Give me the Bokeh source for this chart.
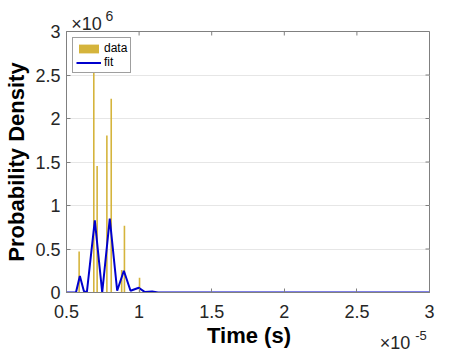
from bokeh.plotting import figure
from bokeh.models import FixedTicker, Legend, LegendItem, LinearAxis
from bokeh.embed import file_html
from bokeh.resources import INLINE

# ---- data (time in units of 1e-5 s, density in units of 1e6) ----
bar_x = [0.587, 0.688, 0.711, 0.778, 0.808, 0.880, 0.899, 1.003]
bar_h = [0.47, 2.60, 1.455, 1.806, 2.226, 0.26, 0.767, 0.17]
bar_w = 0.011

fit_x = [0.500, 0.565, 0.592, 0.620, 0.640, 0.695, 0.746, 0.798, 0.849,
         0.895, 0.941, 0.998, 1.040, 1.090, 1.130, 3.000]
fit_y = [0.0, 0.0, 0.19, 0.015, 0.0, 0.83, 0.0, 0.85, 0.02,
         0.25, 0.02, 0.055, 0.005, 0.012, 0.0, 0.0]

x_ticks = [0.5, 1.0, 1.5, 2.0, 2.5, 3.0]
x_tick_labels = ["0.5", "1", "1.5", "2", "2.5", "3"]
y_ticks = [0.0, 0.5, 1.0, 1.5, 2.0, 2.5, 3.0]
y_tick_labels = ["0", "0.5", "1", "1.5", "2", "2.5", "3"]
x_exponent = "-5"
y_exponent = "6"
x_title = "Time (s)"
y_title = "Probability Density"

FONT = "Liberation Sans"
AX_COL = "#808080"
TXT_COL = "#262626"

W, H = 474, 355
BL, BR, BT, BB = 66, 45, 31, 62
XR = (0.5, 3.0)
YR = (0.0, 3.0)
fw, fh = W - BL - BR, H - BT - BB


def px_to_x(px):
    return XR[0] + (px - BL) * (XR[1] - XR[0]) / fw


p = figure(width=W, height=H, x_range=XR, y_range=YR,
           output_backend="svg", toolbar_location=None,
           min_border_left=BL, min_border_right=BR, min_border_top=BT,
           min_border_bottom=BB)
p.outline_line_color = AX_COL
p.background_fill_color = "white"
p.border_fill_color = "white"

r_bar = p.vbar(x=bar_x, top=bar_h, width=bar_w, bottom=0,
               fill_color="#D5B43C", line_color=None)
r_fit = p.line(fit_x, fit_y, line_color="#0000CD", line_width=2)

p.xgrid.visible = False
p.ygrid.ticker = FixedTicker(ticks=y_ticks)
p.ygrid.grid_line_color = "#e6e6e6"
p.ygrid.grid_line_width = 1

for ax, ticks, labels in ((p.xaxis[0], x_ticks, x_tick_labels),
                          (p.yaxis[0], y_ticks, y_tick_labels)):
    ax.ticker = FixedTicker(ticks=ticks)
    ax.major_label_overrides = dict(zip(ticks, labels))
    ax.axis_line_color = AX_COL
    ax.major_tick_line_color = AX_COL
    ax.major_tick_in = 4
    ax.major_tick_out = 0
    ax.minor_tick_line_color = None
    ax.major_label_text_font = FONT
    ax.major_label_text_font_size = "18px"
    ax.major_label_text_color = TXT_COL

p.xaxis[0].major_label_standoff = 12

p.yaxis[0].axis_label = y_title
p.yaxis[0].axis_label_text_font = FONT
p.yaxis[0].axis_label_text_font_size = "22px"
p.yaxis[0].axis_label_text_font_style = "bold"
p.yaxis[0].axis_label_text_color = "black"
p.yaxis[0].major_label_standoff = 6
p.yaxis[0].axis_label_standoff = 3


def text_axis(side, text, center_px, size, standoff, bold=False, color=TXT_COL):
    t = px_to_x(center_px)
    ax = LinearAxis(ticker=FixedTicker(ticks=[t]),
                    major_label_overrides={t: text},
                    axis_line_color=None, major_tick_line_color=None,
                    minor_tick_line_color=None, major_tick_in=0, major_tick_out=0,
                    major_label_standoff=standoff,
                    major_label_text_font=FONT, major_label_text_font_size=size,
                    major_label_text_font_style="bold" if bold else "normal",
                    major_label_text_color=color)
    p.add_layout(ax, side)


# bottom stack (outward from the frame): exponent, multiplier, axis title
text_axis("below", x_exponent, 420.5, "13px", 10)
text_axis("below", "×10", 394.5, "18px", -10)
text_axis("below", x_title, (BL + W - BR) / 2 + 1, "22px", -33, bold=True, color="black")
# top stack: multiplier, exponent
text_axis("above", "×10", 86, "18px", -2)
text_axis("above", y_exponent, 109, "14px", -10)

# box ticks (inward) on the right and top edges, from the tick arrays
tx = 4 * (XR[1] - XR[0]) / fw
ty = 4 * (YR[1] - YR[0]) / fh
p.segment(x0=[XR[1] - tx] * len(y_ticks), x1=[XR[1]] * len(y_ticks),
          y0=y_ticks, y1=y_ticks, line_color=AX_COL, line_width=1)
p.segment(x0=x_ticks, x1=x_ticks, y0=[YR[1] - ty] * len(x_ticks),
          y1=[YR[1]] * len(x_ticks), line_color=AX_COL, line_width=1)

legend = Legend(items=[LegendItem(label="data", renderers=[r_bar]),
                       LegendItem(label="fit", renderers=[r_fit])],
                location="top_left", margin=6, padding=3, spacing=0,
                glyph_width=25, glyph_height=11, label_standoff=3,
                label_text_font=FONT, label_text_font_size="12px",
                label_text_color="black", label_height=12,
                border_line_color="#404040", border_line_width=1,
                background_fill_color="white", background_fill_alpha=1)
p.add_layout(legend)

open("out.html", "w").write(file_html(p, INLINE))
